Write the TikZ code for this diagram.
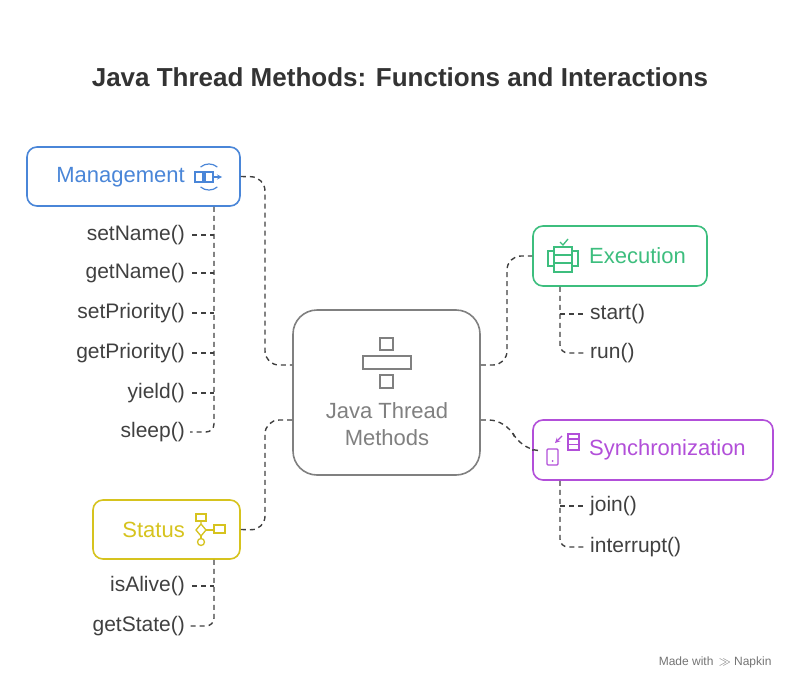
\documentclass[tikz,border=0pt]{standalone}
\usepackage{fontspec}
\setmainfont{Liberation Sans}
\begin{document}
\begin{tikzpicture}[x=1pt,y=-1pt,
  box/.style={draw,line width=1.6pt,rounded corners=10pt,fill=white},
  conn/.style={draw=black!75,line width=1.4pt,dash pattern=on 5pt off 4pt,rounded corners=14pt},
  item/.style={font=\fontsize{21}{23}\selectfont,text=black!75,inner sep=0pt},
  lab/.style={font=\fontsize{22}{24}\selectfont,inner sep=0pt}]
\useasboundingbox (0,0) rectangle (800,693);
\definecolor{cblue}{HTML}{4A86D8}
\definecolor{cgreen}{HTML}{3DBE7E}
\definecolor{cpurple}{HTML}{B24FD9}
\definecolor{cyellow}{HTML}{D6C31E}
\definecolor{cgray}{HTML}{808080}
\node[font=\bfseries\fontsize{26}{28}\selectfont,text=black!80] (title) at (400,77) {Java Thread Methods: Functions and Interactions};
% center
\node[box,draw=cgray,rounded corners=24pt,minimum width=187pt,minimum height=165pt] (c) at (386.5,392.5) {};
\draw[cgray,line width=1.5pt] (380,338) rectangle (393,350) (363,356) rectangle (411,369) (380,375) rectangle (393,388);
\node[lab,text=cgray,align=center,font=\fontsize{22}{27}\selectfont] (ct) at (387,424) {Java Thread\\Methods};
% management
\node[box,draw=cblue,minimum width=213pt,minimum height=59pt] (m) at (133.5,176.5) {};
\node[lab,text=cblue,anchor=east] (mt) at (185,177) {Management};
\begin{scope}[cblue,line width=1.2pt]
\draw (195,172) rectangle (203,182) (205,172) rectangle (213,182);
\draw[-stealth] (213,177) -- (222,177);
\draw (200.6,167) arc (230:310:13);
\draw (200.6,187) arc (130:50:13);
\end{scope}
% status
\node[box,draw=cyellow,minimum width=147pt,minimum height=59pt] (s) at (166.5,529.5) {};
\node[lab,text=cyellow,anchor=east] (st) at (185,530) {Status};
\begin{scope}[cyellow,line width=1.3pt]
\draw (196,514) rectangle (206,521);
\draw (201,521) -- (201,524) (201,524) -- (206,530) -- (201,536) -- (196,530) -- cycle;
\draw (206,530) -- (214,530) (214,525) rectangle (225,533);
\draw (201,536) -- (201,539); \draw (201,542) circle (3.5);
\end{scope}
% execution
\node[box,draw=cgreen,minimum width=174pt,minimum height=60pt] (e) at (620,256) {};
\node[lab,text=cgreen,anchor=west] (et) at (589,256) {Execution};
\begin{scope}[cgreen,line width=1.3pt]
\draw (554,247) rectangle (572,272); \draw (554,255)--(572,255) (554,263)--(572,263);
\draw (548,251) rectangle (554,266) (572,251) rectangle (578,266);
\draw (560,242)--(563,245)--(568,239);
\end{scope}
% synchronization
\node[box,draw=cpurple,minimum width=240pt,minimum height=60pt] (y) at (653,450) {};
\node[lab,text=cpurple,anchor=west] (yt) at (589,450) {Synchronization};
\begin{scope}[cpurple,line width=1.3pt]
\draw[rounded corners=1pt] (547,449) rectangle (558,465); \fill (552.5,461) circle (1);
\draw (568,434) rectangle (579,450); \draw (568,439)--(579,439) (568,444.5)--(579,444.5);
\draw[-stealth] (562,436) -- (555,443);
\end{scope}
% main connectors
\draw[conn] (m.east) -- (265,177) -- (265,365) -- (c.west |- 0,365);
\draw[conn] (s.east) -- (265,530) -- (265,420) -- (c.west |- 0,420);
\draw[conn] (c.east |- 0,365) -- (507,365) -- (507,256) -- (e.west);
\draw[conn,rounded corners=18pt] (c.east |- 0,420) -- (507,420) -- (520,449) -- (y.west);
% management items
\foreach \t/\yy/\n in {setName()/235/a,getName()/273/b,setPriority()/313/c,getPriority()/353/d,yield()/393/f,sleep()/432/g}{
  \node[item,anchor=east] (m\n) at (185,\yy) {\t};
}
\draw[conn,rounded corners=8pt] (m.south -| 214,0) -- (214,432) -- ([xshift=5pt]mg.east);
\foreach \n in {a,b,c,d,f}{\draw[conn] ([xshift=7pt]m\n.east) -- (214,0 |- m\n);}
% status items
\node[item,anchor=east] (sa) at (185,586) {isAlive()};
\node[item,anchor=east] (sb) at (185,626) {getState()};
\draw[conn,rounded corners=8pt] (s.south -| 214,0) -- (214,626) -- ([xshift=5pt]sb.east);
\draw[conn] ([xshift=7pt]sa.east) -- (214,586);
% execution items
\node[item,anchor=west] (ea) at (590,314) {start()};
\node[item,anchor=west] (eb) at (590,353) {run()};
\draw[conn,rounded corners=8pt] (e.south -| 560,0) -- (560,353) -- ([xshift=-5pt]eb.west);
\draw[conn] (560,314) -- ([xshift=-7pt]ea.west);
% sync items
\node[item,anchor=west] (ya) at (590,506) {join()};
\node[item,anchor=west] (yb) at (590,547) {interrupt()};
\draw[conn,rounded corners=8pt] (y.south -| 560,0) -- (560,547) -- ([xshift=-5pt]yb.west);
\draw[conn] (560,506) -- ([xshift=-7pt]ya.west);
\node[font=\fontsize{12}{14}\selectfont,text=black!55,anchor=east] (nap) at (775,662) {Made with \,{\fontsize{13}{14}\selectfont$\gg$} Napkin};
\end{tikzpicture}
\end{document}
